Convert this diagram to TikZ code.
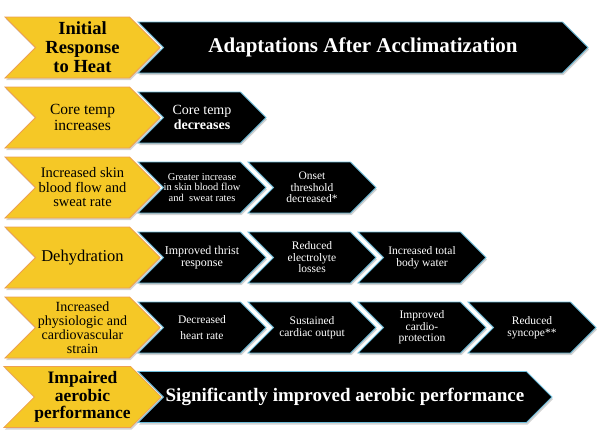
\documentclass[tikz,border=0pt]{standalone}
\usepackage{fontspec}
\setmainfont{Liberation Serif}
\usetikzlibrary{shapes.symbols,shadows}

\definecolor{heatyellow}{RGB}{245,200,38}
\definecolor{heatedge}{RGB}{238,160,80}
\definecolor{acclimedge}{RGB}{110,190,220}

\tikzset{
  chevron/.style={shape=signal, signal from=west, signal to=east,
    signal pointer angle=90, inner sep=0pt, align=center,
    drop shadow={shadow xshift=1pt, shadow yshift=-2pt, opacity=0.35}},
  yelbox/.style={chevron, fill=heatyellow, draw=heatedge, line width=0.8pt,
    minimum width=155pt, minimum height=61pt, text=black},
  blkbox/.style={chevron, fill=black, draw=acclimedge, line width=0.8pt,
    minimum width=128pt, minimum height=51pt, text=white},
}

\begin{document}
\begin{tikzpicture}[x=1pt,y=-1pt]
    \useasboundingbox (0,0) rectangle (600,445);

    % Linke Spalte: erste Reaktion auf Hitze
    \node[yelbox, font=\fontsize{18.5}{19}\selectfont\bfseries] (init) at (82.5,47.5) {Initial\\Response\\to Heat};
    \node[yelbox, font=\fontsize{15.5}{15.5}\selectfont] (core) at (82.5,117.5) {Core temp\\increases};
    \node[yelbox, font=\fontsize{14.5}{14.5}\selectfont] (skin) at (82.5,187.5) {Increased skin\\blood flow and\\sweat rate};
    \node[yelbox, font=\fontsize{16.5}{17}\selectfont] (dehyd) at (82.5,257.5) {Dehydration};
    \node[yelbox, font=\fontsize{14}{14}\selectfont] (strain) at (82.5,327.5) {Increased\\physiologic and\\cardiovascular\\strain};
    \node[yelbox, font=\fontsize{17.5}{17.5}\selectfont\bfseries] (impair) at (82.5,397) {Impaired\\aerobic\\performance};

    % Kopfzeile und Schlusszeile
    \node[blkbox, minimum width=450pt, font=\fontsize{21}{22}\selectfont\bfseries] (adapt) at (363,47.5) {Adaptations After Acclimatization};
    \node[blkbox, minimum width=414pt, font=\fontsize{19}{21}\selectfont\bfseries] (perf) at (345,397) {Significantly improved aerobic performance};

    % Anpassungen nach der Akklimatisierung
    \node[blkbox, font=\fontsize{14}{14.5}\selectfont] (coredec) at (202,117.5) {Core temp\\\textbf{decreases}};

    \node[blkbox, font=\fontsize{10.5}{10.5}\selectfont] (flow) at (202,187.5) {Greater increase\\in skin blood flow\\and\ \ sweat rates};
    \node[blkbox, font=\fontsize{11.5}{11.5}\selectfont] (onset) at (312,187.5) {Onset\\threshold\\decreased*};

    \node[blkbox, font=\fontsize{12}{12}\selectfont] (thirst) at (202,257.5) {Improved thrist\\response};
    \node[blkbox, font=\fontsize{11.5}{11.5}\selectfont] (electro) at (312,257.5) {Reduced\\electrolyte\\losses};
    \node[blkbox, font=\fontsize{11.5}{12}\selectfont] (water) at (422,257.5) {Increased total\\body water};

    \node[blkbox, font=\fontsize{11.5}{16}\selectfont] (heart) at (202,327.5) {Decreased\\heart rate};
    \node[blkbox, font=\fontsize{11.5}{11.5}\selectfont] (output) at (312,327.5) {Sustained\\cardiac output};
    \node[blkbox, font=\fontsize{11.5}{11.5}\selectfont] (protect) at (422,327.5) {Improved\\cardio-\\protection};
    \node[blkbox, font=\fontsize{11.5}{11.5}\selectfont] (syncope) at (532,327.5) {Reduced\\syncope**};

\end{tikzpicture}
\end{document}
